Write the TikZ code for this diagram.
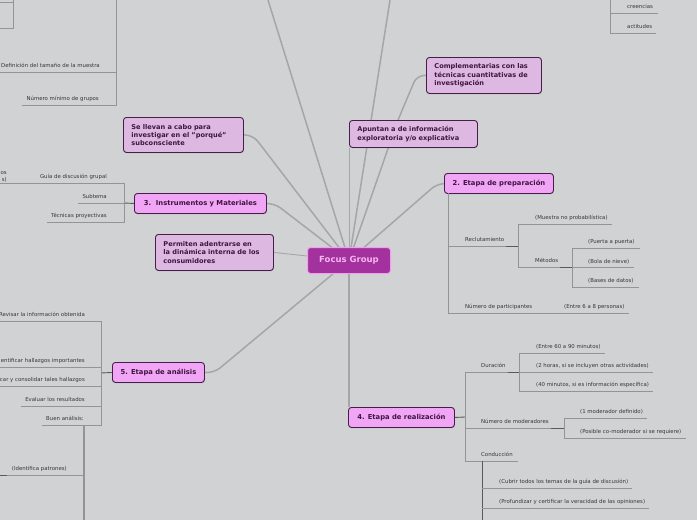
\documentclass[tikz,border=0pt]{standalone}
\usepackage{fontspec}
\setmainfont{DejaVu Sans}
\usetikzlibrary{backgrounds,shadows}
\definecolor{bg}{RGB}{209,210,212}
\definecolor{mainline}{RGB}{166,166,168}
\definecolor{thin}{RGB}{148,148,150}
\definecolor{darkseg}{RGB}{90,90,90}
\definecolor{lilac}{RGB}{221,185,225}
\definecolor{pinkbox}{RGB}{240,166,244}
\definecolor{boxborder}{RGB}{72,28,76}
\definecolor{boxtext}{RGB}{62,20,66}
\definecolor{centerfill}{RGB}{163,50,158}
\definecolor{centerborder}{RGB}{242,160,238}
\definecolor{centertext}{RGB}{246,182,240}
\definecolor{leaftext}{RGB}{55,55,55}
\begin{document}
\begin{tikzpicture}[x=1pt,y=-1pt,
  idea/.style={draw=boxborder, fill=lilac, rounded corners=3pt, line width=0.9pt,
    text=boxtext, font=\fontsize{6.6}{8.4}\selectfont\bfseries, align=left,
    inner xsep=8pt, inner ysep=0pt, anchor=north west,
    drop shadow={shadow xshift=0.4pt, shadow yshift=-1pt, opacity=0.25}},
  topic/.style={idea, fill=pinkbox, font=\fontsize{6.8}{8.4}\selectfont\bfseries,
    inner xsep=0pt, align=center},
  hub/.style={draw=centerborder, fill=centerfill, text=centertext, rounded corners=3pt,
    line width=1pt, font=\fontsize{8.5}{10}\selectfont\bfseries, anchor=north west,
    minimum width=83pt, minimum height=26pt, inner sep=0pt},
  leaf/.style={font=\fontsize{5.4}{7}\selectfont, text=leaftext, inner xsep=0pt,
    inner ysep=3pt, text depth=1pt, text height=4pt},
  leafml/.style={font=\fontsize{5.4}{7.5}\selectfont, text=leaftext, inner sep=0pt, align=right},
  branch/.style={draw=thin, line width=0.6pt},
  joint/.style={draw=darkseg, line width=0.9pt},
  midline/.style={draw=thin, line width=1.1pt},
  mainconn/.style={draw=mainline, line width=1.5pt, rounded corners=8pt},
  thinconn/.style={draw=mainline, line width=0.9pt, rounded corners=8pt}
]
\begin{scope}[on background layer]
  \fill[bg] (0,0) rectangle (697,520);
\end{scope}
\useasboundingbox (0,0) rectangle (697,520);
\clip (0,0) rectangle (697,520);

% ---------- boxes ----------
\node[hub] (center) at (307,247) {Focus Group};
\node[idea, text width=104pt, minimum height=35pt] (sellevan) at (123,117)
  {Se llevan a cabo para\\investigar en el "porqué"\\subconsciente};
\node[idea, text width=99pt, minimum height=36pt] (complem) at (426,57)
  {Complementarias con las\\técnicas cuantitativas de\\investigación};
\node[idea, text width=112pt, minimum height=27pt] (apuntan) at (349,120)
  {Apuntan a de información\\exploratoria y/o explicativa};
\node[idea, text width=102pt, minimum height=36pt] (permiten) at (155,234)
  {Permiten adentrarse en\\la dinámica interna de los\\consumidores};
\node[topic, minimum width=132pt, minimum height=20pt] (instr) at (134,193)
  {3.\ \ Instrumentos y Materiales};
\node[topic, minimum width=109pt, minimum height=20pt] (prep) at (444,173)
  {2. Etapa de preparación};
\node[topic, minimum width=92pt, minimum height=20pt] (analisis) at (112,362)
  {5. Etapa de análisis};
\node[topic, minimum width=106pt, minimum height=20pt] (realiz) at (348,407)
  {4. Etapa de realización};

% ---------- free ends ----------
\coordinate (topA) at (268,0);
\coordinate (topB) at (390,0);

% ---------- main connectors ----------
\begin{scope}[on background layer]
  \draw[mainconn] (topA) -- (center.center);
  \draw[mainconn] (topB) -- (center.center);
  \draw[thinconn] (apuntan.south west) -- (center.north -| apuntan.south west);
  \draw[mainconn] (complem.west) -- (417,75) -- (398,120) -- (center.center);
  \draw[mainconn] (sellevan.east) -- (253,135) -- (center.center);
  \draw[mainconn] (instr.east) -- (274,203) -- (center.center);
  \draw[thinconn] (permiten.east) -- (center.center);
  \draw[mainconn] (prep.west) -- (438,183) -- (center.center);
  \draw[mainconn] (analisis.east) -- (214,373) -- (center.center);
  \draw[mainconn] (center.center) -- (center.center |- realiz.north);
\end{scope}

% ---------- top-left ----------
\node[leaf,anchor=south east] (defin) at (100,72) {Definición del tamaño de la muestra};
\node[leaf,anchor=south east] (numgr) at (99,105) {Número mínimo de grupos};
\coordinate (jtl) at (116,0);
\draw[branch] (jtl) |- ([xshift=-4pt]numgr.south west);
\draw[branch] (jtl |- defin.south) -- ([xshift=-4pt]defin.south west);
\coordinate (jtiny) at (13,0);
\coordinate (tinyA) at (0,2);
\coordinate (tinyB) at (0,28);
\draw[branch] (jtiny) |- (tinyB);
\draw[branch] (tinyA) -- (jtiny |- tinyA);

% ---------- top-right ----------
\node[leaf,anchor=south west] (creen) at (627,13) {creencias};
\node[leaf,anchor=south west] (actit) at (627,33) {actitudes};
\coordinate (jtr) at (610,0);
\draw[branch] (jtr) |- ([xshift=4pt]actit.south east);
\draw[branch] (jtr |- creen.south) -- ([xshift=5pt]creen.south east);

% ---------- 3. Instrumentos ----------
\node[leaf,anchor=south east] (guia) at (107,183) {Guía de discusión grupal};
\node[leaf,anchor=south east] (subt) at (107,203) {Subtema};
\node[leaf,anchor=south east] (tecn) at (107,222) {Técnicas proyectivas};
\node[leafml,anchor=south east] (loss) at (7,182.5) {los\\s)};
\coordinate (ji) at (124,203);
\draw[joint] (instr.west) -- (ji);
\draw[branch] (loss.south west |- guia.south) -| (ji |- tecn.south) -- ([xshift=-4pt]tecn.south west);
\draw[branch] (ji) -- ([xshift=-4pt]subt.south west);

% ---------- 5. Etapa de análisis ----------
\node[leaf,anchor=south east] (revisar) at (85,321) {Revisar la información obtenida};
\node[leaf,anchor=south east] (ident) at (85,367) {entificar hallazgos importantes};
\node[leaf,anchor=south east] (consol) at (85,386) {car y consolidar tales hallazgos};
\node[leaf,anchor=south east] (evaluar) at (85,406) {Evaluar los resultados};
\node[leaf,anchor=south east] (buen) at (84,425) {Buen análisis:};
\node[leaf,anchor=south east] (patron) at (67,475) {(Identifica patrones)};
\coordinate (ja) at (101,373);
\draw[joint] (analisis.west) -- (ja);
\draw[branch] ([xshift=-4pt]revisar.south west) -| (ja |- buen.south) -- ([xshift=-4pt]buen.south west);
\draw[branch] ([xshift=-4pt]ident.south west) -- (ja |- ident.south);
\draw[branch] ([xshift=-4pt]consol.south west) -- (ja |- consol.south);
\draw[branch] ([xshift=-4pt]evaluar.south west) -- (ja |- evaluar.south);
\coordinate (jb) at (84,425);
\coordinate (jbend) at (84,520);
\draw[midline] (jb) -- (jbend);
\draw[branch] ([xshift=-12pt]patron.south west) -- (jb |- patron.south);
\coordinate (pleft) at (0,475);
\draw[joint] (pleft) -- ++(7,0);

% ---------- 2. Etapa de preparación ----------
\coordinate (jp) at (448,193);
\node[leaf,anchor=south west] (recl) at (465,246) {Reclutamiento};
\coordinate (jr) at (518,246);
\node[leaf,anchor=south west] (muestra) at (535,224) {(Muestra no probabilística)};
\node[leaf,anchor=south west] (metodos) at (535,267) {Métodos};
\coordinate (jm) at (572,267);
\node[leaf,anchor=south west] (puerta) at (588,248) {(Puerta a puerta)};
\node[leaf,anchor=south west] (bola) at (588,267.5) {(Bola de nieve)};
\node[leaf,anchor=south west] (bases) at (588,287) {(Bases de datos)};
\node[leaf,anchor=south west] (numpart) at (465,313) {Número de participantes};
\node[leaf,anchor=south west] (entre68) at (564,313) {(Entre 6 a 8 personas)};
\draw[branch] (jp) |- ([xshift=4pt]entre68.south east);
\draw[branch] (jp |- recl.south) -- (jr);
\draw[joint] ([xshift=2pt]recl.south east) -- (jr);
\draw[branch] ([xshift=4pt]muestra.south east) -| (jr |- metodos.south) -- (jm);
\draw[joint] ([xshift=2pt]metodos.south east) -- (jm);
\draw[branch] ([xshift=5pt]puerta.south east) -| (jm |- bases.south) -- ([xshift=5pt]bases.south east);
\draw[branch] (jm |- bola.south) -- ([xshift=5pt]bola.south east);

% ---------- 4. Etapa de realización ----------
\coordinate (jz) at (465,417);
\draw[joint] (realiz.east) -- (jz);
\node[leaf,anchor=south west] (dur) at (481,372) {Duración};
\coordinate (jd) at (519,372);
\node[leaf,anchor=south west] (d1) at (536,353) {(Entre 60 a 90 minutos)};
\node[leaf,anchor=south west] (d2) at (536,372) {(2 horas, si se incluyen otras actividades)};
\node[leaf,anchor=south west] (d3) at (536,391) {(40 minutos, si es información específica)};
\node[leaf,anchor=south west] (nmod) at (481,428) {Número de moderadores};
\coordinate (jn) at (564,428);
\node[leaf,anchor=south west] (m1) at (580,418) {(1 moderador definido)};
\node[leaf,anchor=south west] (m2) at (580,438) {(Posible co-moderador si se requiere)};
\node[leaf,anchor=south west] (cond) at (481,461) {Conducción};
\coordinate (jc) at (482,461);
\coordinate (jcend) at (482,520);
\node[leaf,anchor=south west] (c1) at (499,488) {(Cubrir todos los temas de la guía de discusión)};
\node[leaf,anchor=south west] (c2) at (499,508) {(Profundizar y certificar la veracidad de las opiniones)};
\draw[branch] (jd) -- (jz |- dur.south) |- ([xshift=5pt]cond.south east);
\draw[joint] ([xshift=2pt]dur.south east) -- (jd);
\draw[branch] (jz |- nmod.south) -- (jn);
\draw[joint] ([xshift=2pt]nmod.south east) -- (jn);
\draw[branch] ([xshift=4pt]d1.south east) -| (jd |- d3.south) -- ([xshift=4pt]d3.south east);
\draw[branch] (jd) -- ([xshift=4pt]d2.south east);
\draw[branch] ([xshift=4pt]m1.south east) -| (jn |- m2.south) -- ([xshift=4pt]m2.south east);
\draw[joint] (jc) -- (jcend);
\draw[branch] (jc |- c1.south) -- ([xshift=4pt]c1.south east);
\draw[branch] (jc |- c2.south) -- ([xshift=4pt]c2.south east);
\end{tikzpicture}
\end{document}
